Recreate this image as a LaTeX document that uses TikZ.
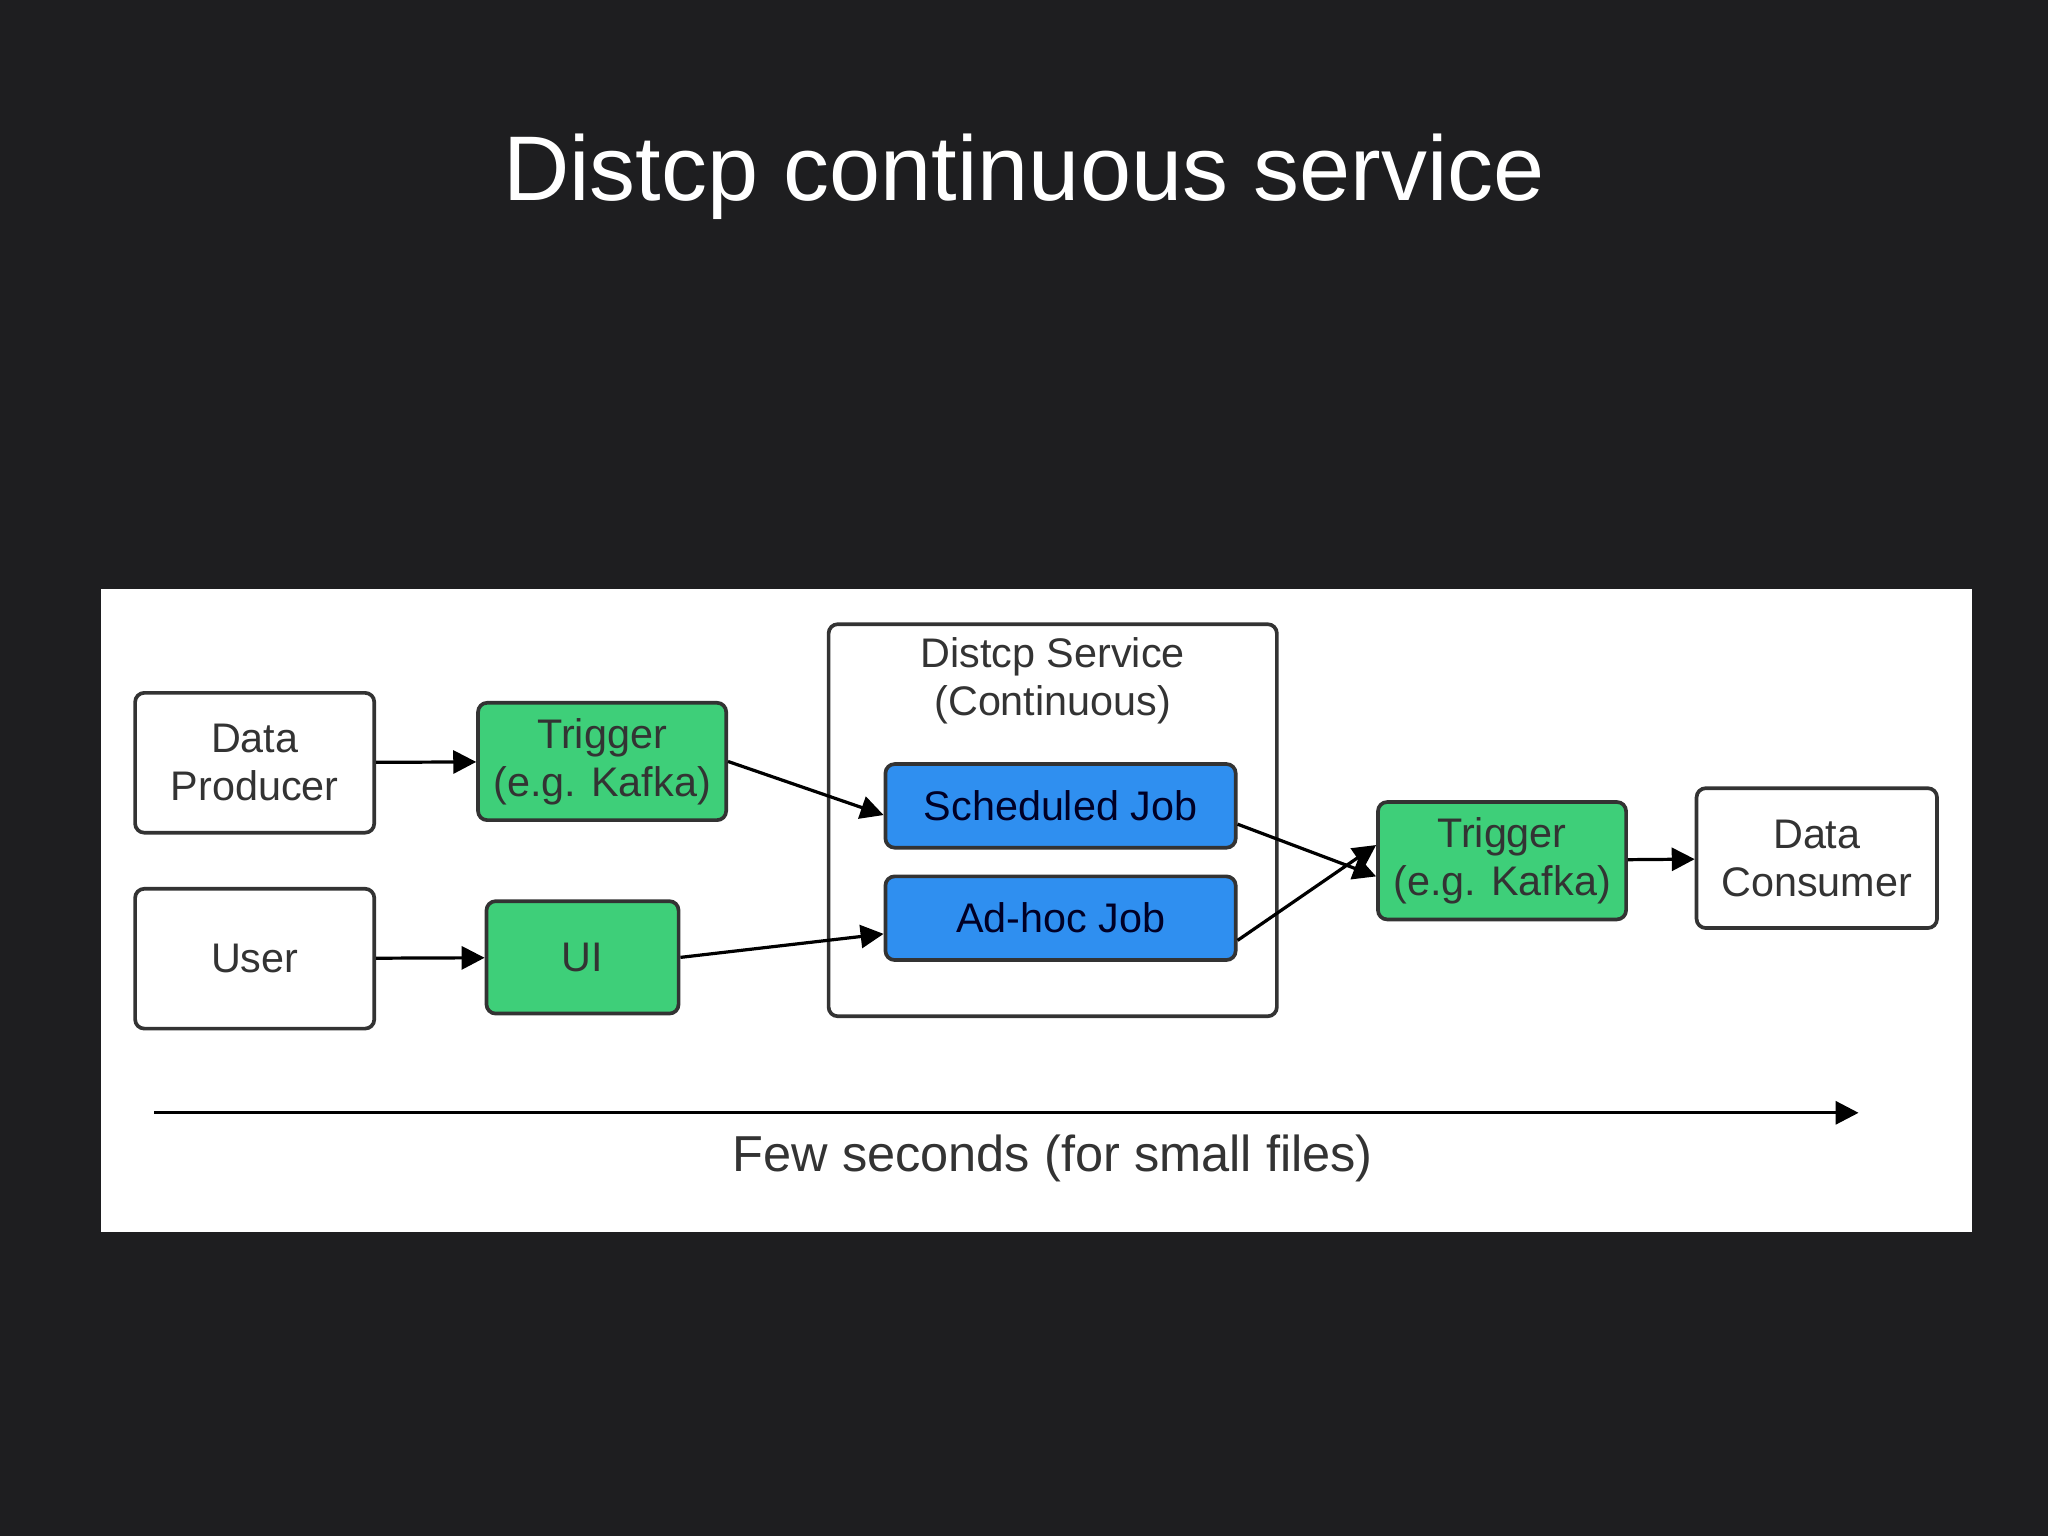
\documentclass[tikz,border=0pt]{standalone}
\usepackage{fontspec}
\setmainfont{Liberation Sans}
\usetikzlibrary{arrows.meta}
\definecolor{slidebg}{HTML}{1E1E20}
\definecolor{trigreen}{HTML}{3ECF79}
\definecolor{jobblue}{HTML}{2F8FF0}
\definecolor{boxline}{HTML}{333333}
\tikzset{
  box/.style={draw=boxline, line width=0.8pt, rounded corners=2pt, align=center, font=\fontsize{9}{10.5}\selectfont, text=black!80},
  plain/.style={box, fill=white},
  green/.style={box, fill=trigreen},
  blue/.style={box, fill=jobblue, text=black!85!blue},
  flow/.style={-{Triangle[length=5pt,width=5pt]}, line width=0.7pt, black}
}
\begin{document}
\begin{tikzpicture}[x=0.01cm, y=-0.01cm]
\fill[slidebg] (0,0) rectangle (1568,1176);
\fill[white] (77,451) rectangle (1510,943);
\node[text=white, font=\fontsize{20}{24}\selectfont] (title) at (784,135) {Distcp continuous service};
% service frame
\node[plain, minimum width=3.43cm, minimum height=3cm] (service) at (806,628) {};
\node[align=center, font=\fontsize{9}{10.5}\selectfont, text=black!80] (servicelbl) at (806,521) {Distcp Service\\(Continuous)};
% left column
\node[plain, minimum width=1.83cm, minimum height=1.07cm] (producer) at (195,584) {Data\\Producer};
\node[plain, minimum width=1.83cm, minimum height=1.07cm] (user) at (195,734) {User};
\node[green, minimum width=1.76cm, minimum height=0.86cm] (trigA) at (461,583) {Trigger\\(e.g. Kafka)};
\node[green, minimum width=1.47cm, minimum height=0.86cm] (ui) at (446,733) {UI};
% jobs
\node[blue, minimum width=2.68cm, minimum height=0.64cm] (sched) at (812,617) {Scheduled Job};
\node[blue, minimum width=2.68cm, minimum height=0.64cm] (adhoc) at (812,703) {Ad-hoc Job};
% right column
\node[green, minimum width=1.73cm, minimum height=0.85cm] (trigB) at (1150,659) {Trigger\\(e.g. Kafka)};
\node[plain, minimum width=1.84cm, minimum height=1.07cm] (consumer) at (1391,657) {Data\\Consumer};
% connectors
\draw[flow] (producer) -- (trigA);
\draw[flow] (user) -- (ui);
\draw[flow] (trigA.east) -- ([yshift=-2pt]sched.west);
\draw[flow] (ui.east) -- ([yshift=-0.12cm]adhoc.west);
\draw[flow] ([yshift=-0.14cm]sched.east) -- ([yshift=-0.12cm]trigB.west);
\draw[flow] ([yshift=-0.17cm]adhoc.east) -- ([yshift=0.12cm]trigB.west);
\draw[flow] (trigB) -- (consumer);
% timeline
\coordinate (tstart) at (118,852);
\coordinate (tend) at (1423,852);
\draw[flow] (tstart) -- (tend);
\node[font=\fontsize{11}{13}\selectfont, text=black!80] (timelbl) at (806,887) {Few seconds (for small files)};
\end{tikzpicture}
\end{document}
